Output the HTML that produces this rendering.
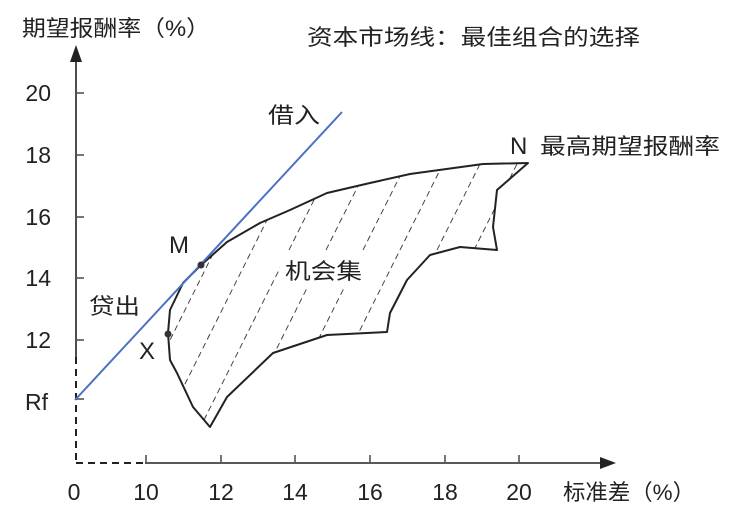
<!DOCTYPE html>
<html><head><meta charset="utf-8"><style>
body{margin:0;background:#fff;}
svg text{font-family:"Liberation Sans","Noto Sans CJK SC",sans-serif;fill:#222;}
</style></head><body>
<svg width="737" height="515" viewBox="0 0 737 515" xmlns="http://www.w3.org/2000/svg">
<defs>
<clipPath id="c"><path id="shp" d="M528,163 L483,164 L410,174 L370,183 L327,193 L290,210 L260,223 L227,242 L200,266 L183,283 L170,310 L168,333 L170,360 L177,373 L193,407 L210,427 L227,397 L273,353 L327,335 L387,332 L390,313 L407,280 L430,255 L460,247 L497,250 L493,227 L497,190 Z"/></clipPath>
</defs>
<text x="22" y="36" font-size="22" textLength="188" lengthAdjust="spacingAndGlyphs">期望报酬率（%）</text>
<text x="307" y="45" font-size="22" textLength="333" lengthAdjust="spacingAndGlyphs">资本市场线：最佳组合的选择</text>
<line x1="76" y1="55" x2="76" y2="357" stroke="#222" stroke-width="1.6"/>
<polygon points="70,62 82,62 76,45" fill="#222"/>
<line x1="76" y1="357" x2="76" y2="463" stroke="#222" stroke-width="2" stroke-dasharray="7,5"/>
<line x1="76" y1="463" x2="145" y2="463" stroke="#222" stroke-width="2" stroke-dasharray="7,5"/>
<line x1="145" y1="463" x2="605" y2="463" stroke="#222" stroke-width="1.6"/>
<polygon points="600,457 600,469 616,463" fill="#222"/>
<g stroke="#554" stroke-width="1.6">
<line x1="76" y1="93" x2="84" y2="93"/><line x1="76" y1="155" x2="84" y2="155"/><line x1="76" y1="217" x2="84" y2="217"/><line x1="76" y1="278" x2="84" y2="278"/><line x1="76" y1="340" x2="84" y2="340"/><line x1="76" y1="399" x2="84" y2="399"/>
</g>
<g stroke="#554" stroke-width="1.6">
<line x1="146" y1="463" x2="146" y2="455"/><line x1="221" y1="463" x2="221" y2="455"/><line x1="295" y1="463" x2="295" y2="455"/><line x1="370" y1="463" x2="370" y2="455"/><line x1="445" y1="463" x2="445" y2="455"/><line x1="519" y1="463" x2="519" y2="455"/>
</g>
<g font-size="23" text-anchor="end">
<text x="51" y="101">20</text><text x="51" y="163">18</text><text x="51" y="225">16</text><text x="51" y="286">14</text><text x="51" y="348">12</text><text x="48" y="410">Rf</text>
</g>
<g font-size="23" text-anchor="middle">
<text x="74" y="500">0</text><text x="146" y="500">10</text><text x="221" y="500">12</text><text x="295" y="500">14</text><text x="370" y="500">16</text><text x="445" y="500">18</text><text x="519" y="500">20</text>
</g>
<text x="563" y="500" font-size="22" textLength="132" lengthAdjust="spacingAndGlyphs">标准差（%）</text>
<g clip-path="url(#c)" stroke="#333" stroke-width="0.9" stroke-dasharray="6,4">
<line x1="130" y1="420" x2="330" y2="20"/><line x1="167" y1="420" x2="367" y2="20"/><line x1="204" y1="420" x2="404" y2="20"/><line x1="241" y1="420" x2="441" y2="20"/><line x1="278" y1="420" x2="478" y2="20"/><line x1="315" y1="420" x2="515" y2="20"/><line x1="352" y1="420" x2="552" y2="20"/><line x1="389" y1="420" x2="589" y2="20"/><line x1="426" y1="420" x2="626" y2="20"/><line x1="463" y1="420" x2="663" y2="20"/><line x1="500" y1="420" x2="700" y2="20"/>
</g>
<rect x="280" y="252" width="88" height="34" fill="#fff"/>
<use href="#shp" fill="none" stroke="#222" stroke-width="2" stroke-linejoin="round"/>
<line x1="75" y1="400" x2="342" y2="112" stroke="#4a72c4" stroke-width="2"/>
<circle cx="201" cy="265" r="3.5" fill="#333"/>
<circle cx="168" cy="334" r="3.5" fill="#333"/>
<text x="268" y="123" font-size="22" textLength="52" lengthAdjust="spacingAndGlyphs">借入</text>
<text x="510" y="154" font-size="24">N</text>
<text x="540" y="154" font-size="22" textLength="180" lengthAdjust="spacingAndGlyphs">最高期望报酬率</text>
<text x="169" y="253" font-size="24">M</text>
<text x="89" y="314" font-size="22" textLength="51" lengthAdjust="spacingAndGlyphs">贷出</text>
<text x="139" y="359" font-size="24">X</text>
<text x="285" y="279" font-size="22" textLength="77" lengthAdjust="spacingAndGlyphs">机会集</text>
</svg>
</body></html>
